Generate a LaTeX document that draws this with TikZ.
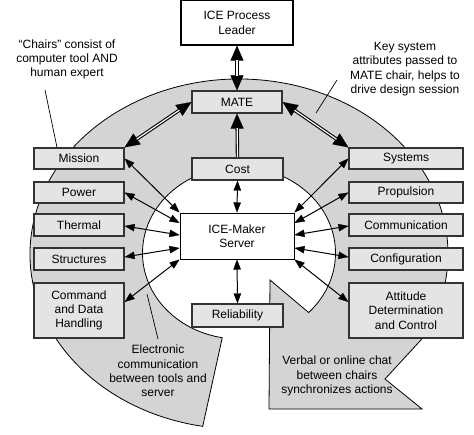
\documentclass[tikz,border=0pt]{standalone}
\usepackage{fontspec}
\setmainfont{Liberation Sans}
\usetikzlibrary{arrows.meta,calc}
\definecolor{regiongray}{RGB}{212,212,212}
\definecolor{boxgray}{RGB}{228,228,228}
\begin{document}
\begin{tikzpicture}[x=1pt,y=1pt,
  every node/.style={font=\fontsize{12}{14.3}\selectfont},
  chair/.style={draw=black!80, fill=boxgray, line width=1.2pt, inner sep=0pt, align=center},
  whitebox/.style={draw=black, fill=white, line width=1.2pt, inner sep=0pt, align=center},
  note/.style={align=center, inner sep=0pt},
  bigboth/.style={line width=3.4pt, {Triangle[length=15pt,width=13pt,line width=0.1pt]}-{Triangle[length=15pt,width=13pt,line width=0.1pt]}},
  bigone/.style={line width=3.4pt, -{Triangle[length=15pt,width=13pt,line width=0.1pt]}},
  coreboth/.style={white, line width=1.2pt, shorten <=14.5pt, shorten >=14.5pt},
  coreone/.style={white, line width=1.2pt, shorten >=14.5pt},
  thinarr/.style={line width=1pt, {Triangle[length=10pt,width=7.5pt,line width=0.3pt]}-{Triangle[length=10pt,width=7.5pt,line width=0.3pt]}},
  ptr/.style={line width=0.7pt}
]
\useasboundingbox (0,0) rectangle (474,-434);

% gray spiral region
\filldraw[fill=regiongray, draw=black, line width=0.8pt]
  ([shift={(239,-254)}]260:209pt and 175pt)
  arc[start angle=260, end angle=-29.3, x radius=209pt, y radius=175pt]
  -- (385,-379) -- (422,-409) -- (269,-409) -- (270,-280)
  -- ([shift={(239,-253)}]-43.8:96.5pt and 86pt)
  arc[start angle=-43.8, end angle=260, x radius=96.5pt, y radius=86pt]
  -- cycle;

% boxes
\node[whitebox, minimum width=112pt, minimum height=44.2pt] (leader) at (237,-22.9) {ICE Process\\Leader};
\node[chair, minimum width=90pt, minimum height=22pt] (mate) at (237,-102) {MATE};
\node[chair, minimum width=91pt, minimum height=22pt] (cost) at (237.5,-169) {Cost};
\node[whitebox, line width=1pt, minimum width=114pt, minimum height=46pt] (server) at (237,-236) {ICE-Maker\\Server};
\node[chair, minimum width=91pt, minimum height=23pt] (rel) at (237.5,-315.5) {Reliability};

\node[chair, minimum width=90pt, minimum height=21pt] (mission) at (79,-158.5) {Mission};
\node[chair, minimum width=90pt, minimum height=21pt] (power) at (79,-192.5) {Power};
\node[chair, minimum width=90pt, minimum height=22pt] (thermal) at (79,-225) {Thermal};
\node[chair, minimum width=90pt, minimum height=22pt] (structures) at (79,-259) {Structures};
\node[chair, minimum width=90pt, minimum height=55pt] (cdh) at (79,-310.5) {Command\\and Data\\Handling};

\node[chair, minimum width=114pt, minimum height=21pt] (systems) at (406,-158.5) {Systems};
\node[chair, minimum width=114pt, minimum height=21pt] (propulsion) at (406,-192.5) {Propulsion};
\node[chair, minimum width=114pt, minimum height=22pt] (comm) at (406,-225) {Communication};
\node[chair, minimum width=114pt, minimum height=22pt] (config) at (406,-259) {Configuration};
\node[chair, minimum width=114pt, minimum height=55pt] (adc) at (406,-310.5) {Attitude\\Determination\\and Control};

% thick arrows
\draw[bigboth] (leader.south) -- (mate.north);
\draw[coreboth] (leader.south) -- (mate.north);
\draw[bigone] (cost.north) -- (mate.south);
\draw[coreone] (cost.north) -- (mate.south);
\draw[bigboth] (mate.west) -- (mission.north east);
\draw[coreboth] (mate.west) -- (mission.north east);
\draw[bigboth] (mate.east) -- (systems.north west);
\draw[coreboth] (mate.east) -- (systems.north west);

% thin arrows
\draw[thinarr] (cost.south) -- (server.north);
\draw[thinarr] (server.south) -- (rel.north);

\draw[thinarr] (mission.east) -- (server.north west);
\draw[thinarr] (power.east) -- ([yshift=13pt]server.west);
\draw[thinarr] ([yshift=-1pt]thermal.east) -- ([yshift=1pt]server.west);
\draw[thinarr] ([yshift=2pt]structures.east) -- ([yshift=-12pt]server.west);
\draw[thinarr] ([yshift=8.5pt]cdh.east) -- (server.south west);

\draw[thinarr] (systems.west) -- (server.north east);
\draw[thinarr] (propulsion.west) -- ([yshift=13pt]server.east);
\draw[thinarr] ([yshift=-1pt]comm.west) -- ([yshift=1pt]server.east);
\draw[thinarr] ([yshift=2pt]config.west) -- ([yshift=-12pt]server.east);
\draw[thinarr] ([yshift=8.5pt]adc.west) -- (server.south east);

% callouts
\node[note] (chairs) at (67,-59.5) {“Chairs” consist of\\computer tool AND\\human expert};
\node[note] (keysys) at (405,-69) {Key system\\attributes passed to\\MATE chair, helps to\\drive design session};
\node[note] (elec) at (158,-371) {Electronic\\communication\\between tools and\\server};
\node[note] (verbal) at (337,-376) {Verbal or online chat\\between chairs\\synchronizes actions};

\coordinate (chairsp) at (45,-90);
\coordinate (keyA) at (337,-80);
\coordinate (keyB) at (316,-113);
\coordinate (elA) at (147,-294);
\coordinate (elB) at (158,-339);
\draw[ptr] (chairsp) -- ([xshift=-22pt]mission.north);
\draw[ptr] (keyA) -- (keyB);
\draw[ptr] (elA) -- (elB);
\end{tikzpicture}
\end{document}
